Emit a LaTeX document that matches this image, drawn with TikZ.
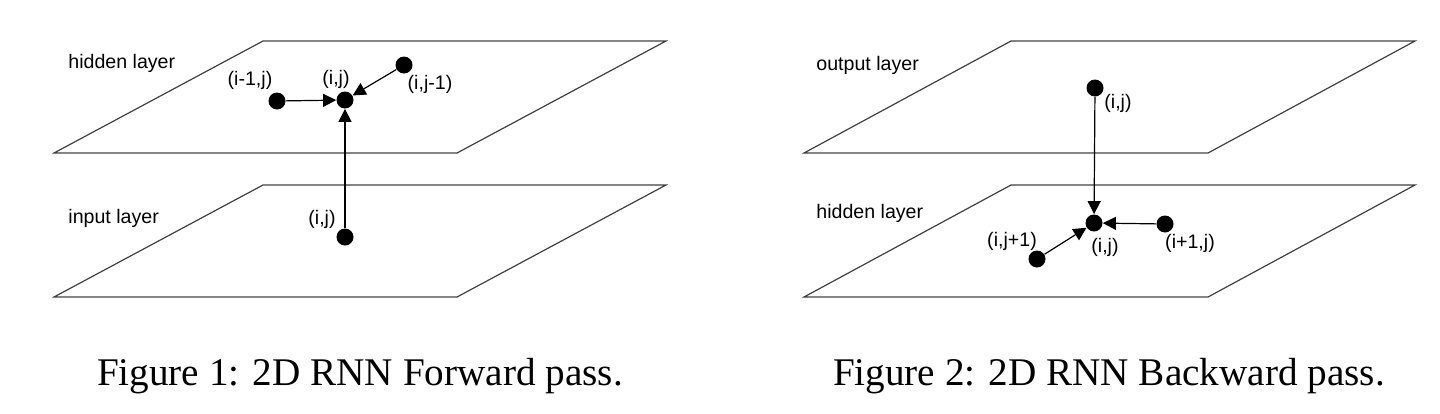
\documentclass[tikz,border=0pt]{standalone}
\usepackage{fontspec}
\setmainfont{Liberation Serif}
\newfontfamily\labelfont{Liberation Sans}
\usetikzlibrary{arrows.meta}

\begin{document}
\begin{tikzpicture}[x=0.5pt,y=-0.5pt,
  plane/.style={draw=black!75,line width=0.6pt,line join=miter},
  unit/.style={circle,fill=black,inner sep=0pt,minimum size=8.5pt},
  flow/.style={black,line width=0.6pt,-{Triangle[length=6.5pt,width=6.5pt]}},
  txt/.style={font=\labelfont\fontsize{9.8}{12}\selectfont,inner sep=0pt},
  caption/.style={font=\fontsize{19.6}{23}\selectfont,inner sep=0pt}]
\useasboundingbox (0,0) rectangle (1440,413);

% Forward pass: hidden layer on top of input layer.
\draw[plane] (263,41) -- (666,41) -- (457,153) -- (54,153) -- cycle;
\draw[plane] (263,185) -- (666,185) -- (457,297) -- (54,297) -- cycle;
\node[txt,anchor=west] (hidF) at (68,63) {hidden layer};
\node[txt,anchor=west] (inF) at (68,218) {input layer};

\node[unit] (hc) at (345,100) {};
\node[unit] (hl) at (277,101) {};
\node[unit] (hb) at (404,65) {};
\node[unit] (xc) at (345,237) {};
\node[txt] (hlT) at (250,80) {(i-1,j)};
\node[txt] (hcT) at (336,79) {(i,j)};
\node[txt] (hbT) at (430,84) {(i,j-1)};
\node[txt] (xcT) at (322,219) {(i,j)};

\draw[flow] (hl) -- (hc);
\draw[flow] (hb) -- (hc);
\draw[flow] (xc) -- (hc);

% Backward pass: output layer on top of hidden layer.
\draw[plane] (1011,41) -- (1415,41) -- (1208,153) -- (804,153) -- cycle;
\draw[plane] (1011,185) -- (1415,185) -- (1208,297) -- (804,297) -- cycle;
\node[txt,anchor=west] (outB) at (816,65) {output layer};
\node[txt,anchor=west] (hidB) at (816,213) {hidden layer};

\node[unit] (yc) at (1095,88) {};
\node[unit] (gc) at (1094,223) {};
\node[unit] (gr) at (1165,224) {};
\node[unit] (gf) at (1037,259) {};
\node[txt,anchor=west] (ycT) at (1104,103) {(i,j)};
\node[txt] (gcT) at (1105,247) {(i,j)};
\node[txt] (grT) at (1190,243) {(i+1,j)};
\node[txt] (gfT) at (1012,241) {(i,j+1)};

\draw[flow] (yc) -- (gc);
\draw[flow] (gr) -- (gc);
\draw[flow] (gf) -- (gc);

% Captions below each panel.
\node[caption] (capF) at (360,376) {Figure 1: 2D RNN Forward pass.};
\node[caption] (capB) at (1109,376) {Figure 2: 2D RNN Backward pass.};
\end{tikzpicture}
\end{document}
